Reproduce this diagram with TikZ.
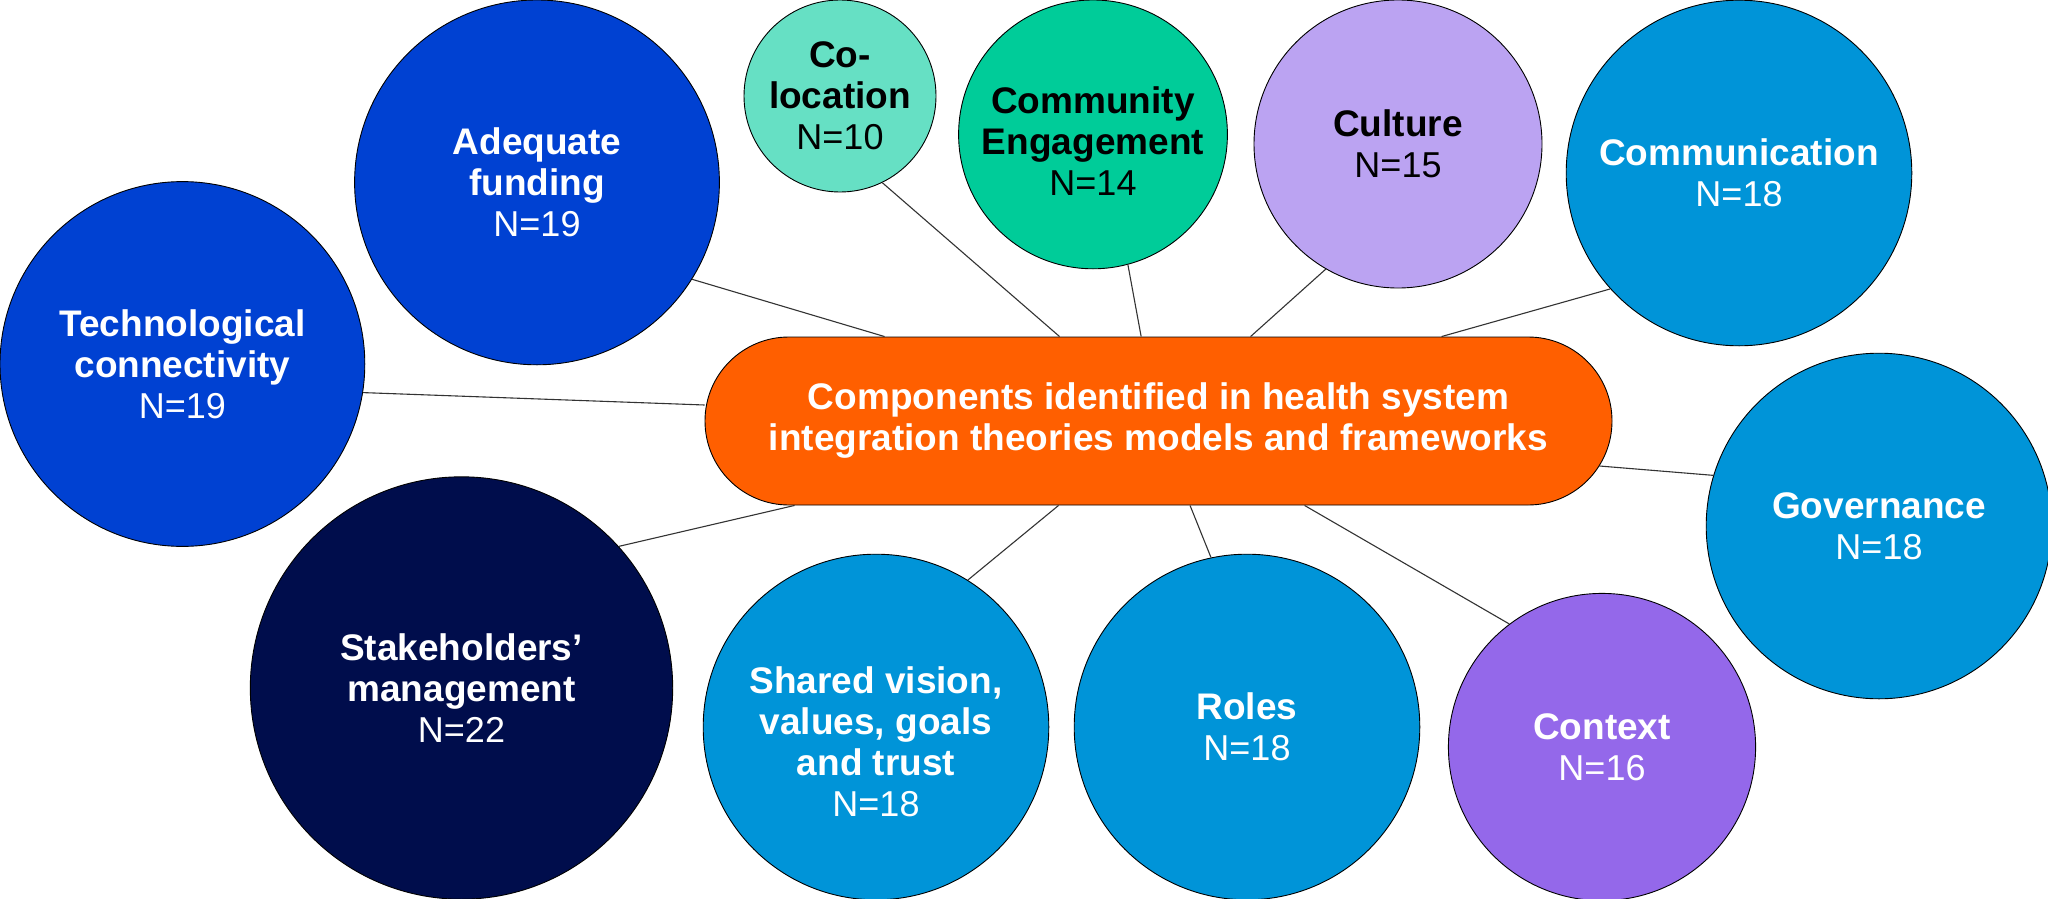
\documentclass[tikz,border=0pt]{standalone}
\usepackage{fontspec}
\setmainfont{Liberation Sans}
\usetikzlibrary{calc}
\definecolor{royal}{HTML}{0041D2}
\definecolor{sky}{HTML}{0094D8}
\definecolor{mint}{HTML}{66E0C4}
\definecolor{teal}{HTML}{00CC99}
\definecolor{lav}{HTML}{BBA3F2}
\definecolor{purp}{HTML}{9468EA}
\definecolor{navy}{HTML}{000D4C}
\definecolor{hubor}{HTML}{FF5F00}
\newcommand{\nline}[1]{{\fontsize{36}{41}\selectfont\mdseries #1}}
\tikzset{
  bub/.style={circle, draw=black, line width=0.9pt, minimum size=#1, inner sep=0pt},
  bub/.default=200pt,
  lbl/.style={align=center, text=white, inner sep=0pt, font=\fontsize{37}{41}\selectfont\bfseries},
  dlbl/.style={lbl, text=black},
  hubbox/.style={rectangle, rounded corners=83.9pt, minimum width=907pt, minimum height=168pt,
    fill=hubor, draw=black, line width=0.9pt, text=white, align=center, inner sep=0pt,
    font=\fontsize{37}{41}\selectfont\bfseries},
  conn/.style={draw=black!80, line width=1.1pt}
}
\begin{document}
\begin{tikzpicture}[x=1pt, y=-1pt]
\fill[white] (0,0) rectangle (2048,899);
\useasboundingbox (0,0) rectangle (2048,899);

\node[hubbox] (hub) at (1158.5,421) {Components identified in health system\\integration theories models and frameworks};

\node[bub=364.8pt, fill=royal, label={[lbl]center:{Technological\\connectivity\\\nline{N=19}}}] (tech) at (182.4,364) {};
\node[bub=364.8pt, fill=royal, label={[lbl]center:{Adequate\\funding\\\nline{N=19}}}] (fund) at (537,182.4) {};
\node[bub=192pt, fill=mint, label={[dlbl]center:{Co-\\location\\\nline{N=10}}}] (coloc) at (840,96) {};
\node[bub=268.8pt, fill=teal, label={[dlbl, yshift=-7pt]center:{Community\\Engagement\\\nline{N=14}}}] (commeng) at (1093,134.4) {};
\node[bub=288pt, fill=lav, label={[dlbl]center:{Culture\\\nline{N=15}}}] (cult) at (1398,144) {};
\node[bub=345.6pt, fill=sky, label={[lbl]center:{Communication\\\nline{N=18}}}] (commu) at (1739,173) {};
\node[bub=345.6pt, fill=sky, label={[lbl]center:{Governance\\\nline{N=18}}}] (gov) at (1879,526) {};
\node[bub=307.2pt, fill=purp, label={[lbl]center:{Context\\\nline{N=16}}}] (ctx) at (1602,747) {};
\node[bub=345.6pt, fill=sky, label={[lbl]center:{Roles\\\nline{N=18}}}] (roles) at (1247,727) {};
\node[bub=345.6pt, fill=sky, label={[lbl, yshift=-15pt]center:{Shared vision,\\values, goals\\and trust\\\nline{N=18}}}] (shared) at (876,727) {};
\node[bub=422.4pt, fill=navy, label={[lbl]center:{Stakeholders’\\management\\\nline{N=22}}}] (stake) at (461.5,688) {};

\draw[conn] (tech.-9.1) -- ([yshift=16pt]hub.west);
\draw[conn] (fund.-32) -- ([xshift=180pt]hub.north west);
\draw[conn] (coloc.-64.2) -- ([xshift=355pt]hub.north west);
\draw[conn] (commeng.-75.7) -- ([xshift=436.6pt]hub.north west);
\draw[conn] (cult.-120.5) -- ([xshift=546pt]hub.north west);
\draw[conn] (commu.-138.3) -- ([xshift=737pt]hub.north west);
\draw[conn] (gov.163.9) -- ([xshift=-13pt,yshift=-45pt]hub.east);
\draw[conn] (ctx.127.9) -- ([xshift=600pt]hub.south west);
\draw[conn] (roles.102.7) -- ([xshift=485.5pt]hub.south west);
\draw[conn] (shared.58.1) -- ([xshift=354pt]hub.south west);
\draw[conn] (stake.42.4) -- ([xshift=90pt]hub.south west);
\end{tikzpicture}
\end{document}
